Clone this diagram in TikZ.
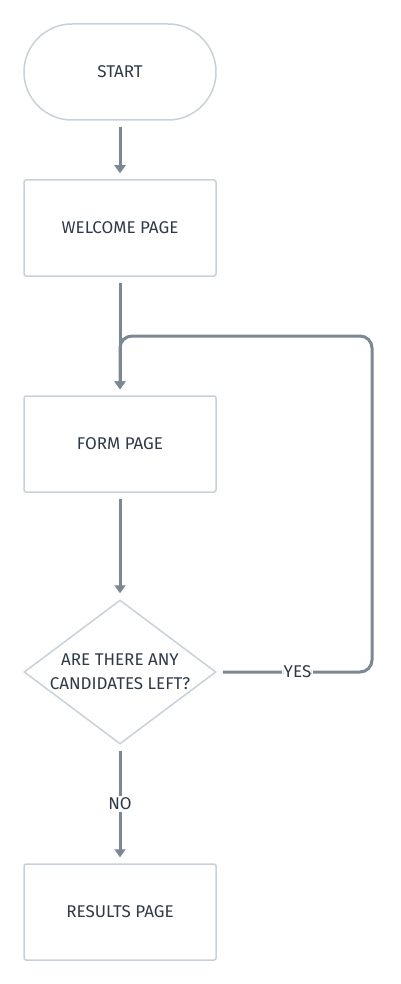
\documentclass[tikz,border=0pt]{standalone}
\usepackage{fontspec}
\setmainfont{Fira Sans}
\usetikzlibrary{shapes.geometric, arrows.meta}

\definecolor{linegrey}{HTML}{7A8795}
\definecolor{boxgrey}{HTML}{C8D1DA}
\definecolor{textgrey}{HTML}{2E3A47}

\tikzset{
    box/.style={draw=boxgrey, line width=1.5pt, rounded corners=2pt, minimum width=192pt, minimum height=96pt, text=textgrey, align=center},
    flow/.style={draw=linegrey, line width=3pt, shorten <=6pt, shorten >=6pt, -{Triangle[length=8pt, width=11pt]}},
    tag/.style={fill=white, text=textgrey, inner sep=1.5pt}
}

\begin{document}
\begin{tikzpicture}[x=1pt, y=1pt, font=\fontsize{17}{24}\selectfont]
        \useasboundingbox (0,0) rectangle (400,-984);
        \node (S) [box, rounded corners=48pt] at (120,-72) {START};
        \node (W) [box, below of=S, node distance=156pt] {WELCOME PAGE};
        \node (F) [box, below of=W, node distance=216pt] {FORM PAGE};
        \node (D) [draw=boxgrey, line width=1.5pt, diamond, aspect=1.333, minimum width=192pt, minimum height=144pt, inner sep=0pt, text=textgrey, align=center, below of=F, node distance=228pt] {ARE THERE ANY\\CANDIDATES LEFT?};
        \node (R) [box, below of=D, node distance=240pt] {RESULTS PAGE};

        \coordinate [right of=D, node distance=252pt] (loopR);
        \coordinate [above of=F, node distance=108pt] (loopT);

        \draw[flow] (S) -- (W);
        \draw[flow] (W) -- (F);
        \draw[flow] (F) -- (D);
        \draw[flow] (D) -- node[tag] {NO} (R);
        \draw[flow, rounded corners=12pt] (D.east) -- node[tag, pos=0.52] {YES} (loopR) -- (loopR |- loopT) -- (loopT) -- (F.north);
    \end{tikzpicture}
\end{document}
